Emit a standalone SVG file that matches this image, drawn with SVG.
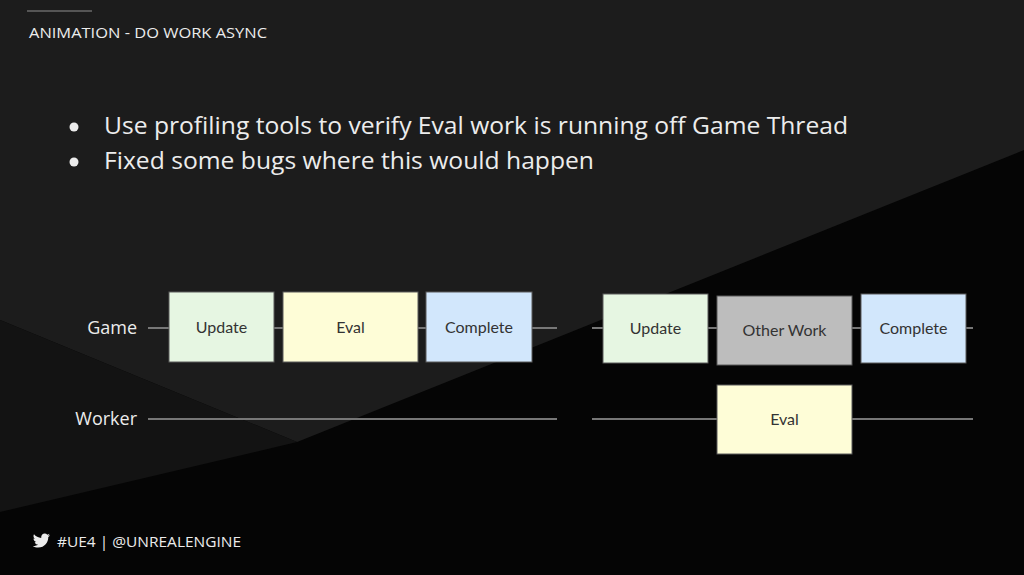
<svg xmlns="http://www.w3.org/2000/svg" width="1024" height="575" viewBox="0 0 1024 575">
<style>
.t{font-family:"Open Sans","Liberation Sans",sans-serif;fill:#ececec}
.b{stroke:#5a5a5a;stroke-width:1}
.bl{font-family:"Lato","Liberation Sans",sans-serif;font-size:16px;fill:#333;text-anchor:middle}
.ln{stroke:#777;stroke-width:2;fill:none}
</style>
<rect width="1024" height="575" fill="#050505"/>
<polygon points="0,0 1024,0 1024,150 297,442 0,320" fill="#1c1c1c"/>
<polygon points="0,320 297,442 0,512" fill="#131313"/>
<rect x="27" y="10" width="65" height="2" fill="#555"/>
<text class="t" x="29" y="38" font-size="15" textLength="238" lengthAdjust="spacingAndGlyphs">ANIMATION - DO WORK ASYNC</text>
<circle cx="74" cy="127" r="4.5" fill="#ececec"/>
<circle cx="74" cy="162" r="4.5" fill="#ececec"/>
<text class="t" x="104" y="134" font-size="24" textLength="744" lengthAdjust="spacingAndGlyphs">Use profiling tools to verify Eval work is running off Game Thread</text>
<text class="t" x="104" y="169" font-size="24" textLength="490" lengthAdjust="spacingAndGlyphs">Fixed some bugs where this would happen</text>
<text class="t" x="137" y="334" font-size="18" text-anchor="end" fill="#ccc">Game</text>
<text class="t" x="137" y="425" font-size="18" text-anchor="end" fill="#ccc">Worker</text>
<g id="connectors">
<path class="ln" d="M148 328H169M274 328H283M418 328H426M532 328H557M592 328H603M708 328H717M852 328H861M966 328H973"/>
<path class="ln" d="M148 419H557M592 419H717M852 419H973"/>
</g>
<g id="update1"><rect class="b" x="169" y="292" width="105" height="70" fill="#e6f6e2"/><text class="bl" x="221.5" y="333">Update</text></g>
<g id="eval1"><rect class="b" x="283" y="292" width="135" height="70" fill="#fefdd7"/><text class="bl" x="350.5" y="333">Eval</text></g>
<g id="complete1"><rect class="b" x="426" y="292" width="106" height="70" fill="#d2e7fc"/><text class="bl" x="479" y="333">Complete</text></g>
<g id="update2"><rect class="b" x="603" y="294" width="105" height="69" fill="#e6f6e2"/><text class="bl" x="655.5" y="334">Update</text></g>
<g id="otherwork"><rect class="b" x="717" y="296" width="135" height="69" fill="#bdbdbd"/><text class="bl" x="784.5" y="336">Other Work</text></g>
<g id="complete2"><rect class="b" x="861" y="294" width="105" height="69" fill="#d2e7fc"/><text class="bl" x="913.5" y="334">Complete</text></g>
<g id="eval2"><rect class="b" x="717" y="385" width="135" height="69" fill="#fefdd7"/><text class="bl" x="784.5" y="425">Eval</text></g>
<path transform="translate(33,533) scale(0.72)" d="M23.6 3.1c-.9.4-1.8.6-2.8.8 1-.6 1.8-1.6 2.2-2.7-1 .6-2 1-3.1 1.2C19 1.4 17.7.8 16.3.8c-2.7 0-4.9 2.2-4.9 4.9 0 .4 0 .8.1 1.1C7.4 6.6 3.8 4.7 1.4 1.7 1 2.4.7 3.3.7 4.2c0 1.7.9 3.2 2.2 4.1-.8 0-1.6-.2-2.2-.6v.1c0 2.4 1.7 4.4 3.9 4.8-.4.1-.8.2-1.3.2-.3 0-.6 0-.9-.1.6 2 2.4 3.4 4.6 3.4-1.7 1.3-3.8 2.1-6.1 2.1-.4 0-.8 0-1.2-.1 2.2 1.4 4.8 2.2 7.5 2.2 9.1 0 14-7.5 14-14v-.6c1-.7 1.8-1.6 2.4-2.5z" fill="#ececec"/>
<text class="t" x="57" y="547" font-size="14" textLength="184" lengthAdjust="spacingAndGlyphs">#UE4 | @UNREALENGINE</text>
</svg>
